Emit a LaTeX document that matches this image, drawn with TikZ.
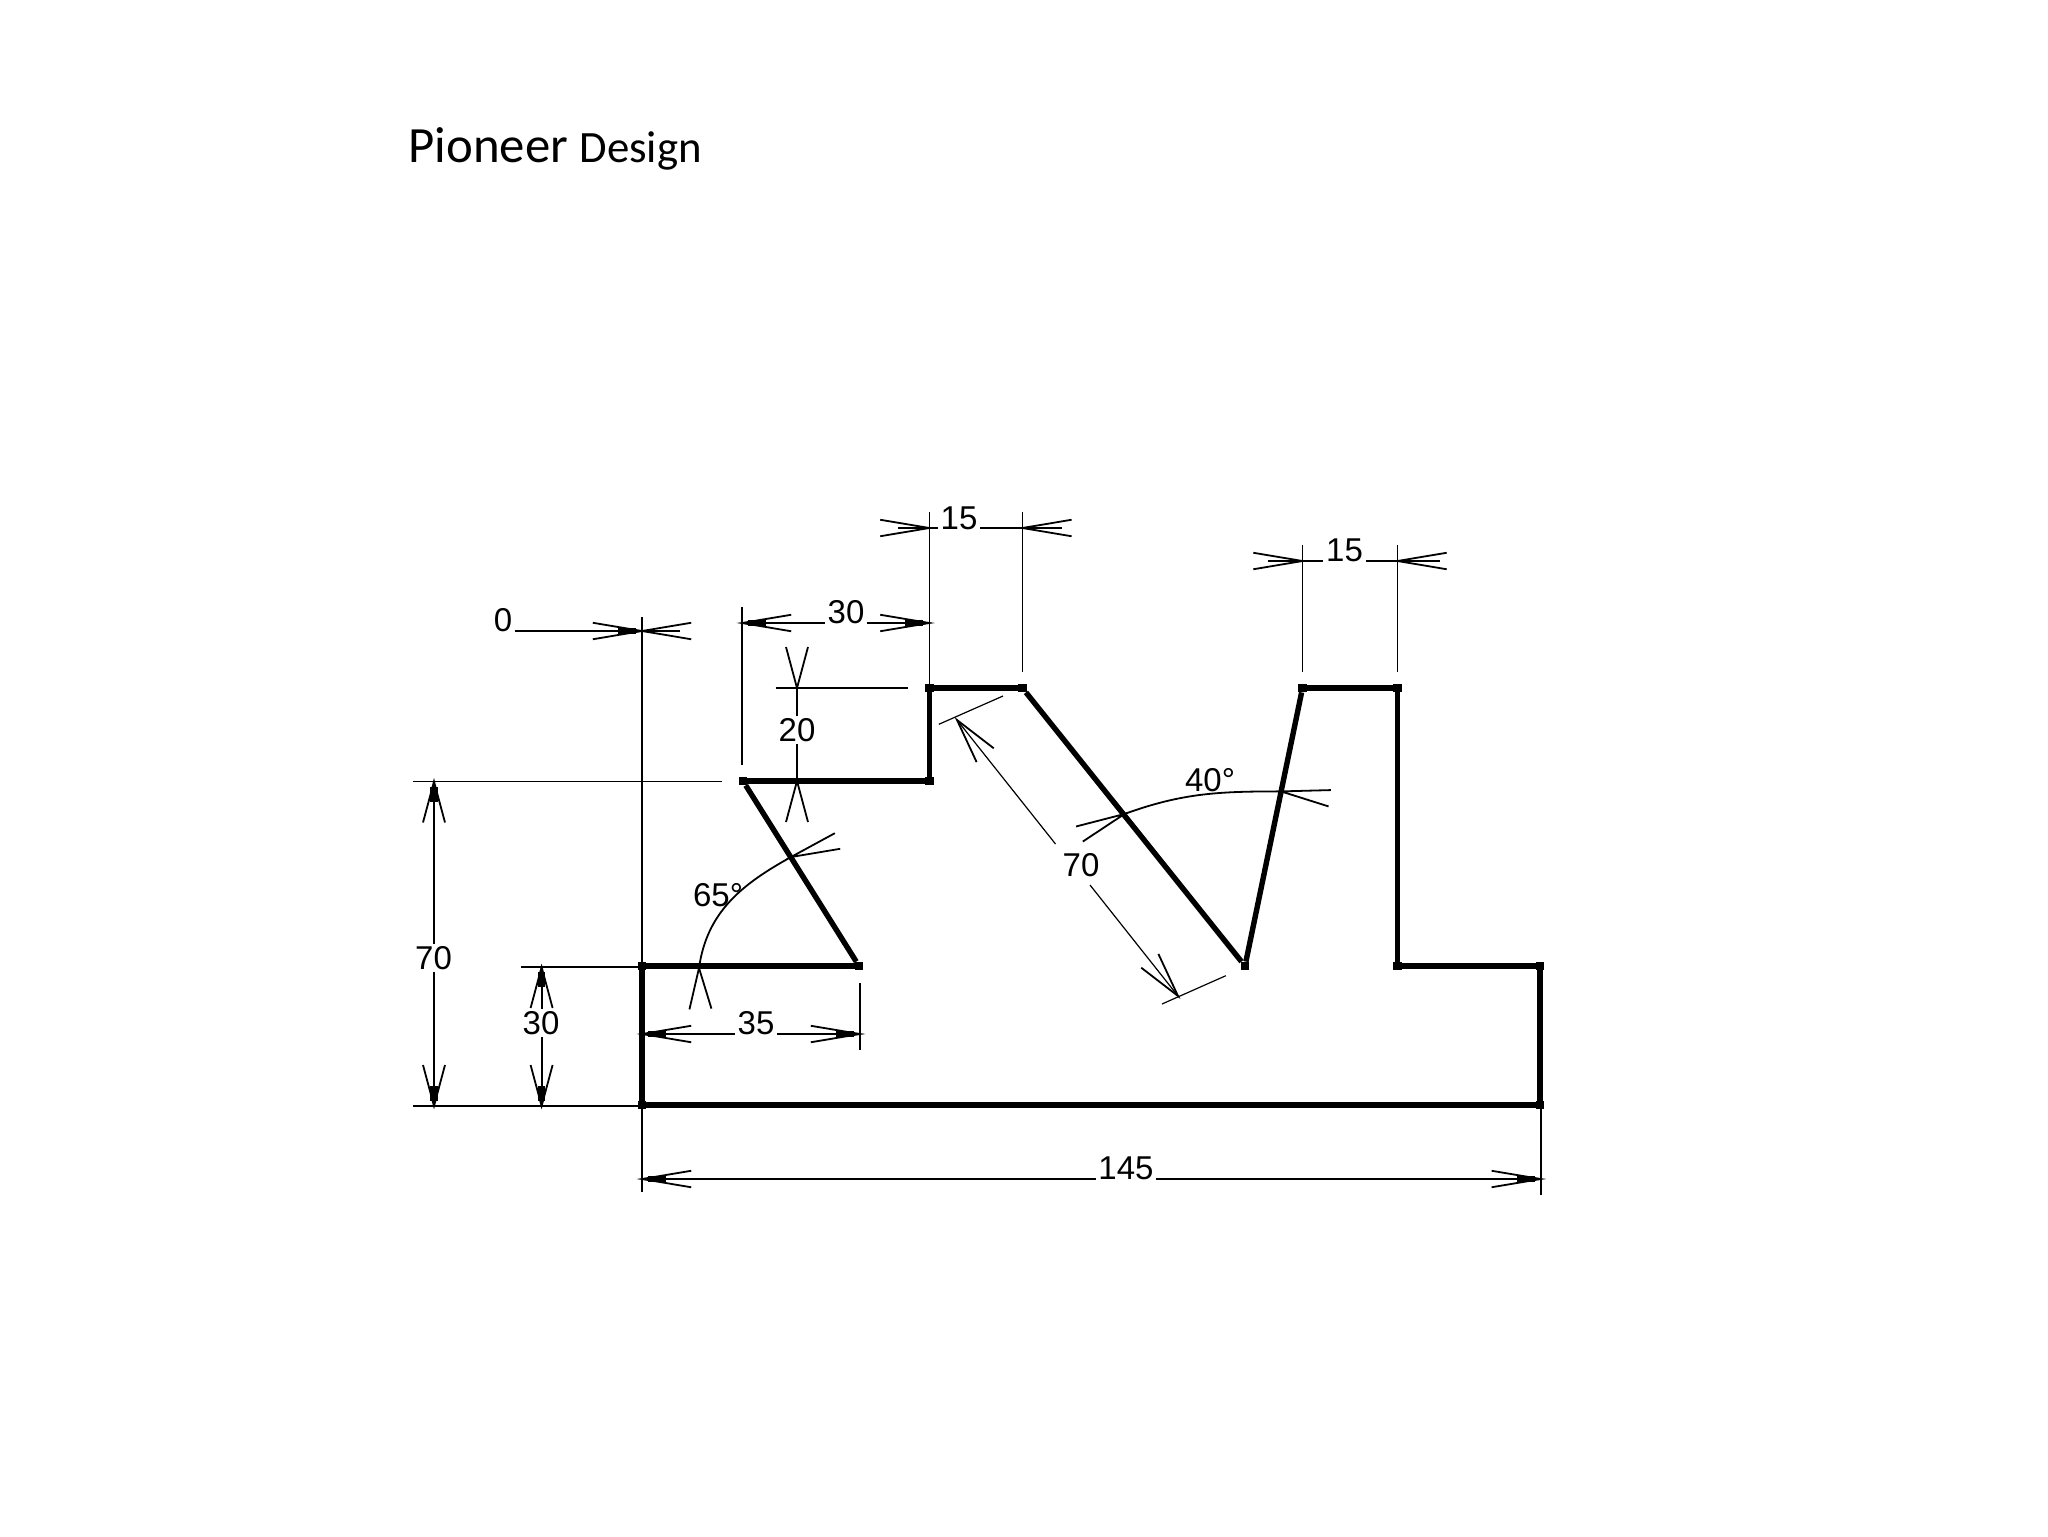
\documentclass[tikz,border=0pt]{standalone}
\usepackage{fontspec}
\setmainfont{Carlito}
\newfontfamily\dimfont{Liberation Sans}
\tikzset{
vtx/.style={rectangle, fill, inner sep=0pt, outer sep=0pt, minimum size=4.4pt},
profile/.style={line width=2.7pt},
dimline/.style={line width=.9pt},
dimlabel/.style={inner sep=1.2pt, font=\dimfont\fontsize{16.5}{18}\selectfont},
flat/.style={xscale=1.2, yscale=.75},
barb/.pic={\draw[dimline] (41,-11) -- (0,0) -- (41,11);},
blobbarb/.pic={\draw[dimline] (41,-11) -- (0,0) -- (41,11); \fill (5,-3.6) rectangle (20,3.6);}
}
\begin{document}
\begin{tikzpicture}[x=.5pt, y=-.5pt]
\useasboundingbox (0,0) rectangle (2048,1536);
\node[anchor=base west, inner sep=0pt] (title) at (408,162.5) {\fontsize{25.4}{30}\selectfont Pioneer \fontsize{22.4}{30}\selectfont Design};
\node[vtx] (p0) at (642,1105){};
\node[vtx] (p1) at (642,966){};
\node[vtx] (p2) at (859,966){};
\node[vtx] (p3) at (743,781){};
\node[vtx] (p4) at (929.4,781){};
\node[vtx] (p5) at (929.4,688){};
\node[vtx] (p6) at (1022.4,688){};
\node[vtx] (p7) at (1245,966){};
\node[vtx] (p8) at (1302.5,688){};
\node[vtx] (p9) at (1397.5,688){};
\node[vtx] (p10) at (1397.5,966){};
\node[vtx] (p11) at (1540,966){};
\node[vtx] (p12) at (1540,1105){};
\draw[profile](p0) -- (p1);
\draw[profile](p1) -- (p2);
\draw[profile](p2) -- (p3);
\draw[profile](p3) -- (p4);
\draw[profile](p4) -- (p5);
\draw[profile](p5) -- (p6);
\draw[profile](p6) -- (p7);
\draw[profile](p7) -- (p8);
\draw[profile](p8) -- (p9);
\draw[profile](p9) -- (p10);
\draw[profile](p10) -- (p11);
\draw[profile](p11) -- (p12);
\draw[profile](p12) -- (p0);
\coordinate (e0a) at (642,617);
\coordinate (e0b) at (642,1192);
\coordinate (e15a) at (929.4,512);
\coordinate (e15b) at (929.4,685);
\coordinate (e15c) at (1022.4,512);
\coordinate (e15d) at (1022.4,672);
\coordinate (e30a) at (742,607);
\coordinate (e30b) at (742,765);
\coordinate (e20a) at (775.5,688);
\coordinate (e20b) at (908,688);
\coordinate (e70a) at (413,781.5);
\coordinate (e70b) at (722,781.5);
\coordinate (e70c) at (413,1106);
\coordinate (e70d) at (642,1106);
\coordinate (e30c) at (521,967);
\coordinate (e30d) at (642,967);
\coordinate (e35a) at (860,983);
\coordinate (e35b) at (860,1050);
\coordinate (e145a) at (1540.8,1105);
\coordinate (e145b) at (1540.8,1195);
\coordinate (e15e) at (1302.5,545);
\coordinate (e15f) at (1302.5,672);
\coordinate (e15g) at (1397.5,545);
\coordinate (e15h) at (1397.5,672);
\coordinate (es1) at (938.8,724.3);
\coordinate (es2) at (1003,696);
\coordinate (es3) at (1162,1004);
\coordinate (es4) at (1225.8,975.7);
\draw[dimline](e0a) -- (e0b);
\draw[dimline](e15a) -- (e15b);
\draw[dimline](e15c) -- (e15d);
\draw[dimline](e30a) -- (e30b);
\draw[dimline](e20a) -- (e20b);
\draw[dimline](e70a) -- (e70b);
\draw[dimline](e70c) -- (e70d);
\draw[dimline](e30c) -- (e30d);
\draw[dimline](e35a) -- (e35b);
\draw[dimline](e145a) -- (e145b);
\draw[dimline](e15e) -- (e15f);
\draw[dimline](e15g) -- (e15h);
\draw[dimline, line width=.6pt](es1) -- (es2);
\draw[dimline, line width=.6pt](es3) -- (es4);
\node[dimlabel] (lab0) at (503,620) {0};
\coordinate (d0a) at (642,631);
\coordinate (d0b) at (680,631);
\draw[dimline](d0a -| lab0.east) -- (d0a) -- (d0b);
\pic[rotate=180, flat] at (d0a) {blobbarb};
\pic[flat] at (d0a) {barb};
\node[dimlabel] (lab15a) at (959,518) {15};
\coordinate (d15a) at (898,528);
\coordinate (d15b) at (929.4,528);
\coordinate (d15c) at (1022.4,528);
\coordinate (d15d) at (1062,528);
\draw[dimline](d15a) -- (d15a -| lab15a.west);
\draw[dimline](d15c -| lab15a.east) -- (d15d);
\pic[rotate=180, flat] at (d15b) {barb};
\pic[flat] at (d15c) {barb};
\node[dimlabel] (lab30a) at (846,612) {30};
\coordinate (d30a) at (742,623);
\coordinate (d30b) at (929.4,623);
\draw[dimline](d30a) -- (d30a -| lab30a.west);
\draw[dimline](d30b -| lab30a.east) -- (d30b);
\pic[flat] at (d30a) {blobbarb};
\pic[rotate=180, flat] at (d30b) {blobbarb};
\node[dimlabel] (lab20) at (797,730) {20};
\coordinate (d20a) at (797,688);
\coordinate (d20b) at (797,781);
\draw[dimline](d20a) -- (d20a |- lab20.north);
\draw[dimline](d20b |- lab20.south) -- (d20b);
\pic[rotate=90] at (d20a) {barb};
\pic[rotate=-90] at (d20b) {barb};
\node[dimlabel] (lab70a) at (433.5,958) {70};
\coordinate (d70a) at (434,781.5);
\coordinate (d70b) at (434,1106);
\draw[dimline](d70a) -- (d70a |- lab70a.north);
\draw[dimline](d70b |- lab70a.south) -- (d70b);
\pic[rotate=-90] at (d70a) {blobbarb};
\pic[rotate=90] at (d70b) {blobbarb};
\node[dimlabel] (lab30b) at (541,1023) {30};
\coordinate (d30c) at (541.6,967);
\coordinate (d30d) at (541.6,1106);
\draw[dimline](d30c) -- (d30c |- lab30b.north);
\draw[dimline](d30d |- lab30b.south) -- (d30d);
\pic[rotate=-90] at (d30c) {blobbarb};
\pic[rotate=90] at (d30d) {blobbarb};
\node[dimlabel] (lab35) at (756,1023) {35};
\coordinate (d35a) at (642,1034);
\coordinate (d35b) at (860,1034);
\draw[dimline](d35a) -- (d35a -| lab35.west);
\draw[dimline](d35b -| lab35.east) -- (d35b);
\pic[flat] at (d35a) {blobbarb};
\pic[rotate=180, flat] at (d35b) {blobbarb};
\node[dimlabel] (lab145) at (1126,1168) {145};
\coordinate (d145a) at (642,1179);
\coordinate (d145b) at (1540.8,1179);
\draw[dimline](d145a) -- (d145a -| lab145.west);
\draw[dimline](d145b -| lab145.east) -- (d145b);
\pic[flat] at (d145a) {blobbarb};
\pic[rotate=180, flat] at (d145b) {blobbarb};
\node[dimlabel] (lab15b) at (1344.5,550) {15};
\coordinate (d15e) at (1268,561);
\coordinate (d15f) at (1302.5,561);
\coordinate (d15g) at (1397.5,561);
\coordinate (d15h) at (1440,561);
\draw[dimline](d15e) -- (d15e -| lab15b.west);
\draw[dimline](d15g -| lab15b.east) -- (d15h);
\pic[rotate=180, flat] at (d15f) {barb};
\pic[flat] at (d15g) {barb};
\node[dimlabel] (lab70b) at (1081,865) {70};
\coordinate (ds1) at (957,720);
\coordinate (ds2) at (1055.5,844);
\coordinate (ds3) at (1090,885);
\coordinate (ds4) at (1178,996);
\draw[dimline, line width=.6pt](ds1) -- (ds2);
\draw[dimline, line width=.6pt](ds3) -- (ds4);
\pic[rotate=-51.3, xscale=1.1] at (ds1) {barb};
\pic[rotate=128.7, xscale=1.1] at (ds4) {barb};
\node[dimlabel] (lab65) at (718,895) {65°};
\coordinate (a65a) at (699,968);
\coordinate (a65b) at (791,857);
\draw[dimline](a65a) to[out=82, in=209] (a65b);
\pic[rotate=-88] at (a65a) {barb};
\pic[rotate=19, flat] at (a65b) {barb};
\node[dimlabel] (lab40) at (1210,780) {40°};
\coordinate (a40a) at (1124.4,814);
\coordinate (a40b) at (1281,791.4);
\draw[dimline](a40a) to[out=20, in=180] (a40b);
\pic[rotate=204, flat] at (a40a) {barb};
\pic[rotate=-8, flat] at (a40b) {barb};
\end{tikzpicture}
\end{document}
